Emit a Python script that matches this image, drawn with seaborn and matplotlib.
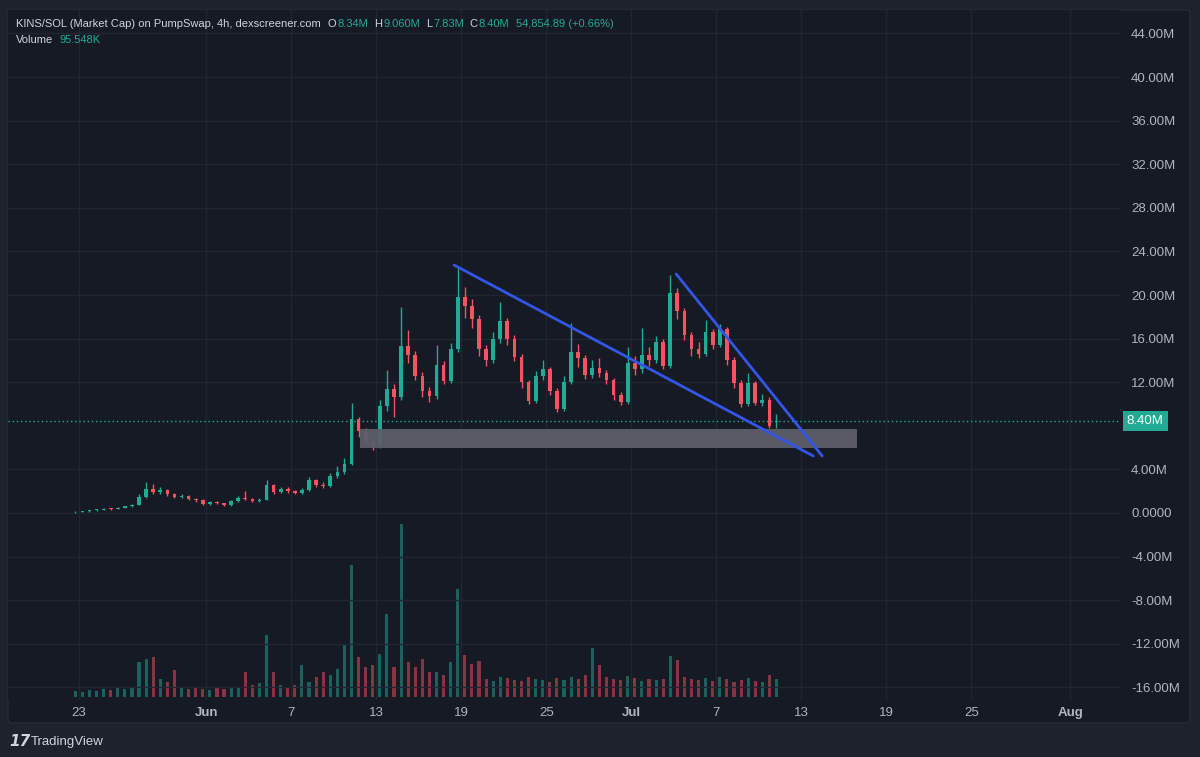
import numpy as np
import pandas as pd
import seaborn as sns
import matplotlib
matplotlib.use("Agg")
import matplotlib.pyplot as plt
import matplotlib.dates as mdates
import matplotlib.transforms as mtransforms
from matplotlib.patches import FancyBboxPatch, Rectangle

candle_start = "2025-05-22 18:00"
opens = [0.05, 0.10, 0.15, 0.25, 0.30, 0.40, 0.35, 0.50, 0.60, 0.75,
         1.50, 2.20, 1.90, 2.10, 1.70, 1.50, 1.60, 1.30, 1.20, 0.80,
         1.00, 0.90, 0.70, 1.10, 1.40, 1.30, 1.10, 1.20, 2.60, 1.90,
         2.20, 2.00, 1.80, 2.10, 3.00, 2.60, 2.50, 3.40, 3.80, 4.50,
         8.60, 7.50, 6.60, 6.20, 9.80, 11.40, 10.60, 15.30, 14.50, 12.60,
         11.20, 10.70, 13.60, 12.10, 15.00, 19.80, 19.00, 17.80, 15.00, 14.00,
         16.00, 17.60, 16.00, 14.30, 12.00, 10.30, 12.60, 13.20, 11.20, 9.50,
         12.00, 14.80, 14.20, 12.70, 13.30, 12.80, 12.20, 10.80, 10.20, 13.80,
         13.20, 14.50, 14.00, 15.70, 13.50, 20.20, 18.50, 16.30, 15.00, 14.60,
         16.60, 15.40, 16.90, 14.00, 11.90, 10.00, 11.90, 10.10, 10.40, 8.34]
highs = [0.15, 0.20, 0.30, 0.38, 0.48, 0.50, 0.58, 0.68, 0.85, 1.70,
         2.80, 2.70, 2.40, 2.20, 1.80, 1.75, 1.65, 1.40, 1.25, 1.10,
         1.10, 0.95, 1.20, 1.55, 2.00, 1.40, 1.35, 3.00, 2.70, 2.40,
         2.35, 2.10, 2.30, 3.30, 3.10, 2.80, 3.70, 4.30, 5.00, 10.10,
         8.80, 7.80, 6.90, 10.40, 13.10, 11.80, 18.90, 16.80, 14.90, 12.90,
         11.60, 15.40, 13.90, 15.60, 22.70, 20.70, 19.60, 18.20, 15.40, 16.60,
         19.40, 17.90, 16.30, 14.60, 12.20, 13.00, 14.00, 13.40, 11.50, 12.60,
         17.40, 15.50, 14.50, 14.00, 14.20, 13.10, 12.40, 11.10, 15.20, 14.40,
         17.00, 15.20, 16.20, 16.00, 21.80, 20.60, 18.80, 16.60, 15.70, 17.70,
         16.90, 17.30, 17.10, 14.30, 12.20, 12.80, 12.10, 10.90, 10.60, 9.06]
lows = [0.03, 0.08, 0.12, 0.20, 0.26, 0.28, 0.32, 0.45, 0.55, 0.70,
        1.40, 1.70, 1.75, 1.55, 1.35, 1.40, 1.20, 1.05, 0.70, 0.75,
        0.80, 0.60, 0.65, 1.00, 1.20, 1.00, 1.00, 1.15, 1.75, 1.80,
        1.85, 1.70, 1.70, 2.00, 2.40, 2.30, 2.40, 3.20, 3.60, 4.40,
        7.00, 6.20, 5.80, 6.00, 9.40, 8.80, 10.40, 13.80, 12.20, 10.60,
        10.20, 10.50, 11.80, 11.90, 14.80, 17.90, 17.00, 14.40, 13.50, 13.80,
        15.60, 15.40, 13.90, 11.50, 10.00, 10.10, 12.20, 10.80, 9.30, 9.40,
        11.80, 13.40, 12.30, 12.40, 12.50, 11.80, 10.40, 9.90, 10.00, 12.70,
        12.80, 13.50, 13.80, 13.20, 13.30, 17.80, 15.90, 14.40, 14.20, 14.40,
        15.00, 15.20, 13.60, 11.50, 9.70, 9.80, 9.90, 9.80, 7.80, 7.83]
closes = [0.10, 0.15, 0.25, 0.30, 0.40, 0.35, 0.50, 0.60, 0.75, 1.50,
          2.20, 1.90, 2.10, 1.70, 1.50, 1.60, 1.30, 1.20, 0.80, 1.00,
          0.90, 0.70, 1.10, 1.40, 1.30, 1.10, 1.20, 2.60, 1.90, 2.20,
          2.00, 1.80, 2.10, 3.00, 2.60, 2.50, 3.40, 3.80, 4.50, 8.60,
          7.50, 6.60, 6.20, 9.80, 11.40, 10.60, 15.30, 14.50, 12.60, 11.20,
          10.70, 13.60, 12.10, 15.00, 19.80, 19.00, 17.80, 15.00, 14.00, 16.00,
          17.60, 16.00, 14.30, 12.00, 10.30, 12.60, 13.20, 11.20, 9.50, 12.00,
          14.80, 14.20, 12.70, 13.30, 12.80, 12.20, 10.80, 10.20, 13.80, 13.20,
          14.50, 14.00, 15.70, 13.50, 20.20, 18.50, 16.30, 15.00, 14.60, 16.60,
          15.40, 16.90, 14.00, 11.90, 10.00, 11.90, 10.10, 10.40, 8.00, 8.40]
volumes = [60, 50, 70, 60, 80, 70, 90, 80, 100, 350,
           380, 400, 180, 150, 270, 100, 80, 90, 80, 70,
           90, 80, 100, 90, 250, 120, 140, 620, 250, 120,
           100, 120, 320, 150, 200, 250, 220, 280, 520, 1320,
           400, 300, 320, 430, 830, 300, 1730, 350, 300, 380,
           250, 250, 220, 350, 1080, 420, 330, 360, 180, 160,
           200, 190, 170, 160, 200, 180, 170, 150, 190, 170,
           200, 180, 220, 490, 320, 200, 180, 170, 210, 190,
           160, 180, 170, 180, 410, 370, 200, 180, 170, 190,
           160, 200, 180, 150, 170, 190, 160, 150, 220, 180]

tick_dates = ["2025-05-23", "2025-06-01", "2025-06-07", "2025-06-13", "2025-06-19",
              "2025-06-25", "2025-07-01", "2025-07-07", "2025-07-13", "2025-07-19",
              "2025-07-25", "2025-08-01"]
tick_labels = ["23", "Jun", "7", "13", "19", "25", "Jul", "7", "13", "19", "25", "Aug"]
price_ticks = [-16, -12, -8, -4, 0, 4, 12, 16, 20, 24, 28, 32, 36, 40, 44]

# falling wedge lines and support zone drawn on the chart
wedge_a_dates = ["2025-06-18 11:45", "2025-07-13 20:20"]
wedge_a_values = [22.75, 5.23]
wedge_b_dates = ["2025-07-04 04:00", "2025-07-14 11:30"]
wedge_b_values = [21.93, 5.23]
zone_dates = ["2025-06-11 20:00", "2025-07-16 23:00"]
zone_values = [5.96, 7.71]
last_price = 8.40

BG = "#161a25"
OUTER = "#1e222d"
TXT = "#b2b5be"
UP = "#22ab94"
DOWN = "#f7525f"
GRID = "#21252f"
LINE = "#3355e8"

sns.set_theme(style="dark", rc={"axes.facecolor": BG, "figure.facecolor": OUTER})
plt.rcParams["font.family"] = ["Liberation Sans", "DejaVu Sans"]

df = pd.DataFrame({
    "time": pd.date_range(candle_start, periods=len(closes), freq="12h"),
    "open": opens, "high": highs, "low": lows, "close": closes, "volume": volumes,
})
df["x"] = mdates.date2num(df["time"])
df["color"] = np.where(df["close"] >= df["open"], UP, DOWN)
df["body_lo"] = df[["open", "close"]].min(axis=1)
df["body_h"] = (df["close"] - df["open"]).abs().clip(lower=0.08)

fig = plt.figure(figsize=(12, 7.57), dpi=100)
fig.patches.append(FancyBboxPatch((8 / 1200, 34 / 757), 1182 / 1200, 713 / 757,
                                  boxstyle="round,pad=0,rounding_size=0.004",
                                  transform=fig.transFigure, facecolor=BG,
                                  edgecolor="#2a2e39", lw=0.8, zorder=-5))

rect = [8 / 1200, 57 / 757, 1112 / 1200, 690 / 757]
axv = fig.add_axes(rect)
ax = fig.add_axes(rect, sharex=axv)
axv.set_zorder(1)
ax.set_zorder(2)
ax.patch.set_visible(False)

# volume pane
axv.bar(df["x"], df["volume"], width=0.22, color=df["color"], alpha=0.5, lw=0)
axv.set_ylim(-30, 6870)
axv.set_yticks([])
axv.tick_params(axis="x", labelbottom=False, length=0)
axv.grid(False)
for s in axv.spines.values():
    s.set_visible(False)

# candles
ax.vlines(df["x"], df["low"], df["high"], colors=df["color"], lw=1)
ax.bar(df["x"], df["body_h"], bottom=df["body_lo"], width=0.26, color=df["color"], lw=0)

# support zone
zx = mdates.date2num(pd.to_datetime(zone_dates))
ax.add_patch(Rectangle((zx[0], zone_values[0]), zx[1] - zx[0], zone_values[1] - zone_values[0],
                       facecolor="#5b5e68", edgecolor="none", alpha=0.95, zorder=3))

# wedge lines
for d, v in [(wedge_a_dates, wedge_a_values), (wedge_b_dates, wedge_b_values)]:
    sns.lineplot(x=mdates.date2num(pd.to_datetime(d)), y=v, ax=ax, color=LINE, lw=2, zorder=4)

ax.axhline(last_price, color=UP, lw=1, ls=(0, (1, 2)), zorder=1)

ax.set_xlim(mdates.date2num(pd.Timestamp("2025-05-18 00:00")),
            mdates.date2num(pd.Timestamp("2025-08-04 12:00")))
ax.set_ylim(-17.16, 46.15)
ax.set_xticks(mdates.date2num(pd.to_datetime(tick_dates)))
ax.set_xticklabels(tick_labels)
for lab in ax.get_xticklabels():
    if lab.get_text() in ("Jun", "Jul", "Aug"):
        lab.set_color("#d1d4dc")
        lab.set_fontweight("bold")
ax.set_yticks(price_ticks)
ax.set_yticklabels(["0.0000" if t == 0 else f"{t:.2f}M" for t in price_ticks])
ax.yaxis.tick_right()
ax.tick_params(axis="y", length=0, pad=8, labelsize=9.5, labelcolor=TXT)
ax.tick_params(axis="x", length=0, pad=5, labelsize=9.5, labelcolor=TXT)
ax.grid(True, color=GRID, lw=1)
ax.set_axisbelow(True)
for s in ax.spines.values():
    s.set_visible(False)
ax.set_xlabel("")
ax.set_ylabel("")

blend = mtransforms.blended_transform_factory(ax.transAxes, ax.transData)
ax.text(1.006, last_price, "8.40M", transform=blend, ha="left", va="center",
        fontsize=9.5, color="white", clip_on=False, zorder=6,
        bbox=dict(boxstyle="square,pad=0.3", fc=UP, ec="none"))

# legend header
renderer = fig.canvas.get_renderer()


def chain(parts, x, y, size=8.0):
    for s, c, gap in parts:
        t = fig.text(x, y, s, color=c, fontsize=size, ha="left", va="center")
        x += (t.get_window_extent(renderer=renderer).width + gap) / fig.bbox.width


chain([("KINS/SOL (Market Cap) on PumpSwap, 4h, dexscreener.com", "#d1d4dc", 7),
       ("O", "#d1d4dc", 1), ("8.34M", UP, 6), ("H", "#d1d4dc", 1), ("9.060M", UP, 6),
       ("L", "#d1d4dc", 1), ("7.83M", UP, 6), ("C", "#d1d4dc", 1), ("8.40M", UP, 6),
       ("54,854.89 (+0.66%)", UP, 0)], 16 / 1200, 1 - 24 / 757)
chain([("Volume", "#d1d4dc", 6), ("95.548K", UP, 0)], 16 / 1200, 1 - 40 / 757)

fig.text(9 / 1200, 1 - 742 / 757, "17", fontsize=11, fontweight="bold", color="#d1d4dc",
         ha="left", va="center", family="DejaVu Sans", style="italic")
fig.text(31 / 1200, 1 - 742 / 757, "TradingView", fontsize=9.5, color="#d1d4dc",
         ha="left", va="center")

fig.savefig("out.png", dpi=100, facecolor=OUTER)
